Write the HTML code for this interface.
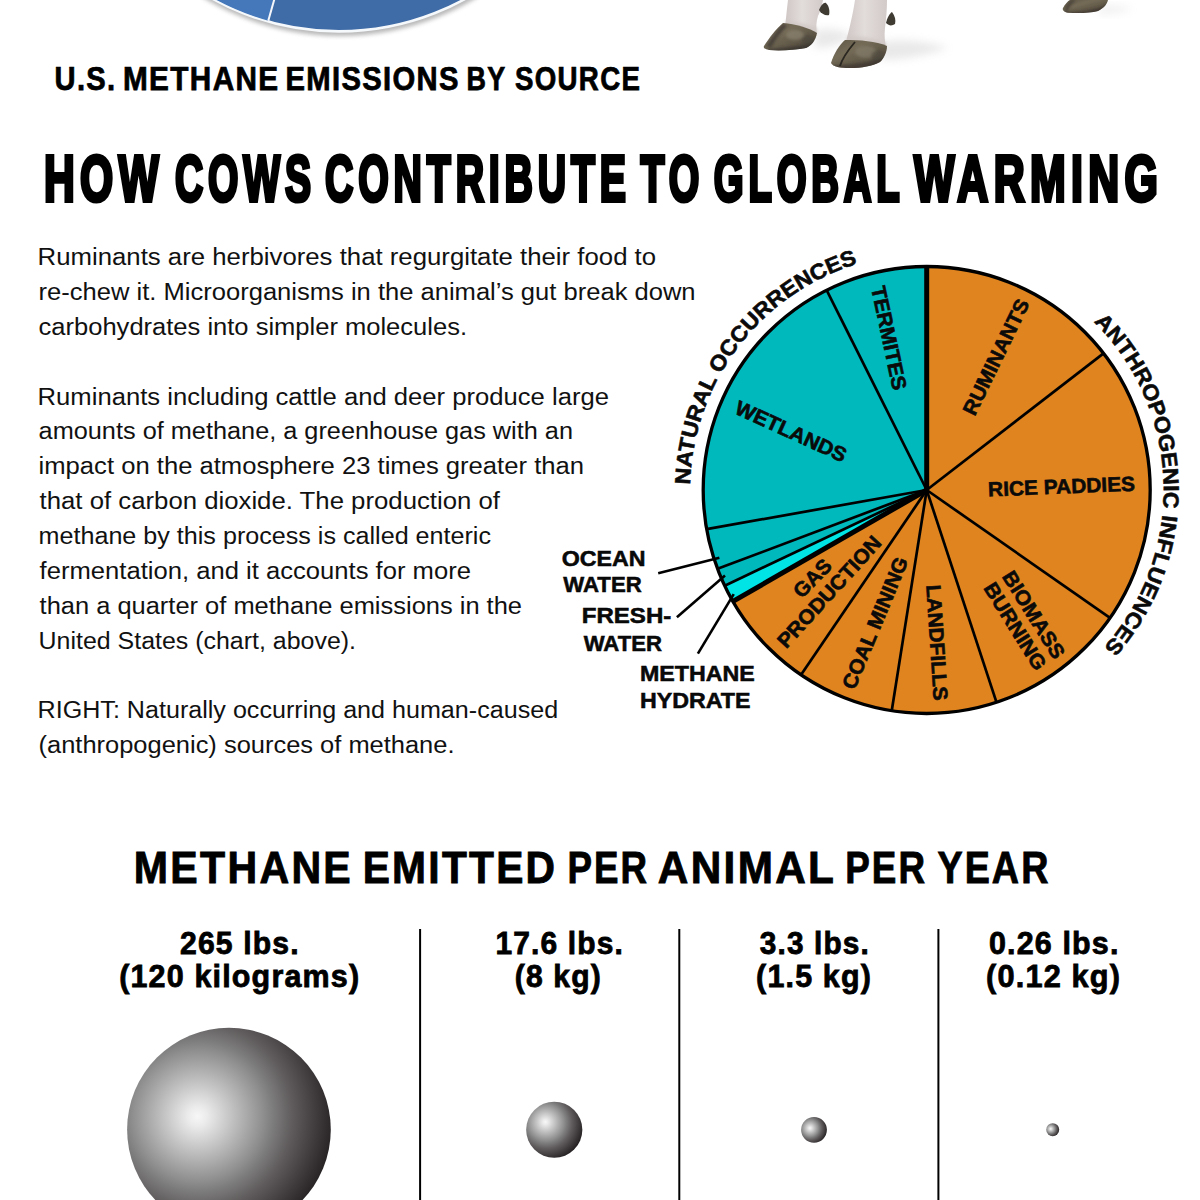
<!DOCTYPE html>
<html><head><meta charset="utf-8"><style>
html,body{margin:0;padding:0;background:#fff;width:1200px;height:1200px;overflow:hidden}
svg{display:block}
.b{font-family:"Liberation Sans",sans-serif}
</style></head><body>
<svg width="1200" height="1200" viewBox="0 0 1200 1200" class="b">
<defs>
<filter id="sh" x="-20%" y="-20%" width="140%" height="140%"><feGaussianBlur stdDeviation="2.2"/></filter>
<filter id="bl1" x="-20%" y="-20%" width="140%" height="140%"><feGaussianBlur stdDeviation="0.6"/></filter>
<filter id="bl3" x="-50%" y="-50%" width="200%" height="200%"><feGaussianBlur stdDeviation="4"/></filter>
<radialGradient id="sp" cx="0.35" cy="0.43" r="0.68" fx="0.345" fy="0.435" gradientUnits="objectBoundingBox">
<stop offset="0" stop-color="#f7f7f7"/><stop offset="0.07" stop-color="#ebebeb"/><stop offset="0.23" stop-color="#c6c6c6"/><stop offset="0.47" stop-color="#8f8f8f"/><stop offset="0.55" stop-color="#7c7b7b"/><stop offset="0.68" stop-color="#605c5d"/><stop offset="1" stop-color="#242021"/>
</radialGradient>
<radialGradient id="sp2" cx="0.36" cy="0.38" r="0.68" fx="0.34" fy="0.36" gradientUnits="objectBoundingBox">
<stop offset="0" stop-color="#f7f7f7"/><stop offset="0.07" stop-color="#ebebeb"/><stop offset="0.23" stop-color="#c6c6c6"/><stop offset="0.47" stop-color="#8f8f8f"/><stop offset="0.55" stop-color="#7c7b7b"/><stop offset="0.68" stop-color="#605c5d"/><stop offset="1" stop-color="#242021"/>
</radialGradient>
<linearGradient id="hoof" x1="0" y1="0" x2="1" y2="1">
<stop offset="0" stop-color="#5e5646"/><stop offset="0.35" stop-color="#746b57"/><stop offset="0.7" stop-color="#5c5444"/><stop offset="1" stop-color="#3a352c"/>
</linearGradient>
<linearGradient id="leg" x1="0" y1="0" x2="1" y2="0">
<stop offset="0" stop-color="#cfc7c5"/><stop offset="0.45" stop-color="#e2dcda"/><stop offset="1" stop-color="#d2cac8"/>
</linearGradient>
</defs>

<circle cx="340" cy="-226.4" r="262.5" fill="#8c8c8c" opacity="0.62" filter="url(#sh)"/>
<circle cx="339" cy="-229.6" r="261" fill="#3f6ba6" stroke="#f6f9fc" stroke-width="2.6"/>
<path d="M339,-229.6 L268.27,20.80 A260.2,260.2 0 0 1 123.86,-83.24 Z" fill="#4478bb"/>
<line x1="339" y1="-229.6" x2="268.27" y2="20.80" stroke="#f4f6fa" stroke-width="2"/>
<defs><clipPath id="ch1"><path d="M764,46 C769,38 776,29 783,23 C795,24 810,28 817,33 C816,40 811,46 806,48 C795,50 780,51 769,50 C765,49 763,48 764,46 Z"/></clipPath><clipPath id="ch2"><path d="M831,63 C834,53 840,44 845,40 C860,40 876,41 887,46 C887,52 884,58 880,62 C872,66 862,68 850,68 C840,68 833,67 831,63 Z"/></clipPath><clipPath id="ch3"><path d="M1063,8 C1065,4 1068,1 1070,0 L1108,0 C1107,4 1104,8 1098,11 C1090,13 1080,13.5 1068,12.8 C1064,12 1062,10 1063,8 Z"/></clipPath>
<filter id="bl2" x="-50%" y="-50%" width="200%" height="200%"><feGaussianBlur stdDeviation="1.5"/></filter></defs>
<g>
<path d="M880,42 C905,38 930,42 948,48 C925,56 900,60 882,60 Z" fill="#b0b0b0" opacity="0.28" filter="url(#bl3)"/>
<path d="M815,30 C830,28 845,30 852,36 C842,44 828,48 815,48 Z" fill="#b0b0b0" opacity="0.28" filter="url(#bl3)"/>
<path d="M1100,6 C1115,5 1125,6 1132,9 C1120,13 1108,14 1098,14 Z" fill="#c0c0c0" opacity="0.25" filter="url(#bl3)"/>
<path d="M788,0 L823,0 C822,6 820,12 818,16 C816,22 816,28 817,34 L785,28 C786,18 787,8 788,0 Z" fill="url(#leg)"/>
<path d="M855,0 L887,0 C887,10 886,20 885,28 C884,36 885,42 886,47 L846,42 C849,30 853,14 855,0 Z" fill="url(#leg)"/>
<path d="M786,20 C795,22 808,24 817,28 L817,34 L784,27 Z" fill="#cfc7c4" opacity="0.7" filter="url(#bl2)"/>
<path d="M847,36 C860,36 875,38 886,42 L886,47 L846,42 Z" fill="#cfc7c4" opacity="0.7" filter="url(#bl2)"/>
<g filter="url(#bl1)">
<path d="M819,10 C821,5 824,2 826,3 C829,6 830,11 829,15 C826,16 821,14 819,10 Z" fill="#3f3a33"/>
<path d="M886,23 C887,18 890,13 892,12 C895,16 896,20 895,24 C892,26 889,26 886,23 Z" fill="#3f3a33"/>
<path d="M764,46 C769,38 776,29 783,23 C795,24 810,28 817,33 C816,40 811,46 806,48 C795,50 780,51 769,50 C765,49 763,48 764,46 Z" fill="url(#hoof)"/>
<g clip-path="url(#ch1)" filter="url(#bl2)">
<ellipse cx="795" cy="35" rx="9" ry="5" fill="#8a826f" opacity="0.7"/>
<ellipse cx="808" cy="40" rx="7" ry="5" fill="#4a443a" opacity="0.6"/>
<path d="M766,46 C772,37 777,30 783,24 L787,26 C781,32 775,40 771,48 Z" fill="#3f3a32" opacity="0.8"/>
<path d="M766,50 C785,47 800,47 815,42 L815,52 L766,52 Z" fill="#3a352e" opacity="0.8"/>
</g>
<path d="M831,63 C834,53 840,44 845,40 C860,40 876,41 887,46 C887,52 884,58 880,62 C872,66 862,68 850,68 C840,68 833,67 831,63 Z" fill="url(#hoof)"/>
<g clip-path="url(#ch2)" filter="url(#bl2)">
<ellipse cx="866" cy="52" rx="11" ry="6" fill="#8a826f" opacity="0.6"/>
<ellipse cx="878" cy="56" rx="7" ry="6" fill="#4a443a" opacity="0.6"/>
<path d="M830,66 C845,64 865,64 885,58 L885,72 L830,72 Z" fill="#3a352e" opacity="0.7"/>
</g>
<path d="M855,42 C850,48 843,56 840,66" stroke="#2a2620" stroke-width="1.8" fill="none"/>
<path d="M1063,8 C1065,4 1068,1 1070,0 L1108,0 C1107,4 1104,8 1098,11 C1090,13 1080,13.5 1068,12.8 C1064,12 1062,10 1063,8 Z" fill="url(#hoof)"/>
<g clip-path="url(#ch3)" filter="url(#bl2)">
<path d="M1063,12 C1080,12 1095,11 1108,4 L1108,16 L1063,16 Z" fill="#3a352e" opacity="0.7"/>
<path d="M1064,9 C1066,5 1069,2 1072,0 L1076,0 C1072,3 1069,7 1067,12 Z" fill="#3a352e" opacity="0.7"/>
</g>
</g>
</g>
<text x="54.55" y="90.2" font-size="32.6" font-weight="bold" textLength="61.97" lengthAdjust="spacingAndGlyphs" fill="#000" stroke="#000" stroke-width="0.75" letter-spacing="1.5">U.S.</text>
<text x="122.95" y="90.2" font-size="32.6" font-weight="bold" textLength="156.64" lengthAdjust="spacingAndGlyphs" fill="#000" stroke="#000" stroke-width="0.75" letter-spacing="1.5">METHANE</text>
<text x="285.43" y="90.2" font-size="32.6" font-weight="bold" textLength="174.43" lengthAdjust="spacingAndGlyphs" fill="#000" stroke="#000" stroke-width="0.75" letter-spacing="1.5">EMISSIONS</text>
<text x="466.60" y="90.2" font-size="32.6" font-weight="bold" textLength="39.82" lengthAdjust="spacingAndGlyphs" fill="#000" stroke="#000" stroke-width="0.75" letter-spacing="1.5">BY</text>
<text x="515.04" y="90.2" font-size="32.6" font-weight="bold" textLength="126.13" lengthAdjust="spacingAndGlyphs" fill="#000" stroke="#000" stroke-width="0.75" letter-spacing="1.5">SOURCE</text>
<text x="43.94" y="201.3" font-size="64.3" font-weight="bold" textLength="120.12" lengthAdjust="spacingAndGlyphs" fill="#000" stroke="#000" stroke-width="4.0" letter-spacing="8">HOW</text>
<text x="175.00" y="201.3" font-size="64.3" font-weight="bold" textLength="141.05" lengthAdjust="spacingAndGlyphs" fill="#000" stroke="#000" stroke-width="4.0" letter-spacing="8">COWS</text>
<text x="325.00" y="201.3" font-size="64.3" font-weight="bold" textLength="305.89" lengthAdjust="spacingAndGlyphs" fill="#000" stroke="#000" stroke-width="4.0" letter-spacing="8">CONTRIBUTE</text>
<text x="640.61" y="201.3" font-size="64.3" font-weight="bold" textLength="63.65" lengthAdjust="spacingAndGlyphs" fill="#000" stroke="#000" stroke-width="4.0" letter-spacing="8">TO</text>
<text x="713.81" y="201.3" font-size="64.3" font-weight="bold" textLength="190.75" lengthAdjust="spacingAndGlyphs" fill="#000" stroke="#000" stroke-width="4.0" letter-spacing="8">GLOBAL</text>
<text x="913.91" y="201.3" font-size="64.3" font-weight="bold" textLength="249.34" lengthAdjust="spacingAndGlyphs" fill="#000" stroke="#000" stroke-width="4.0" letter-spacing="8">WARMING</text>
<text x="37.59" y="265.3" font-size="24.7" font-weight="normal" textLength="618.52" lengthAdjust="spacingAndGlyphs" fill="#111">Ruminants are herbivores that regurgitate their food to</text>
<text x="38.59" y="300.0" font-size="24.7" font-weight="normal" textLength="657.01" lengthAdjust="spacingAndGlyphs" fill="#111">re-chew it. Microorganisms in the animal’s gut break down</text>
<text x="38.59" y="335.0" font-size="24.7" font-weight="normal" textLength="428.42" lengthAdjust="spacingAndGlyphs" fill="#111">carbohydrates into simpler molecules.</text>
<text x="37.59" y="404.7" font-size="24.7" font-weight="normal" textLength="571.42" lengthAdjust="spacingAndGlyphs" fill="#111">Ruminants including cattle and deer produce large</text>
<text x="38.59" y="439.2" font-size="24.7" font-weight="normal" textLength="534.42" lengthAdjust="spacingAndGlyphs" fill="#111">amounts of methane, a greenhouse gas with an</text>
<text x="38.59" y="473.9" font-size="24.7" font-weight="normal" textLength="545.42" lengthAdjust="spacingAndGlyphs" fill="#111">impact on the atmosphere 23 times greater than</text>
<text x="39.59" y="509.2" font-size="24.7" font-weight="normal" textLength="460.41" lengthAdjust="spacingAndGlyphs" fill="#111">that of carbon dioxide. The production of</text>
<text x="38.59" y="544.2" font-size="24.7" font-weight="normal" textLength="452.41" lengthAdjust="spacingAndGlyphs" fill="#111">methane by this process is called enteric</text>
<text x="39.59" y="579.2" font-size="24.7" font-weight="normal" textLength="431.41" lengthAdjust="spacingAndGlyphs" fill="#111">fermentation, and it accounts for more</text>
<text x="39.59" y="614.1" font-size="24.7" font-weight="normal" textLength="482.41" lengthAdjust="spacingAndGlyphs" fill="#111">than a quarter of methane emissions in the</text>
<text x="38.57" y="648.9" font-size="24.7" font-weight="normal" textLength="317.44" lengthAdjust="spacingAndGlyphs" fill="#111">United States (chart, above).</text>
<text x="37.58" y="718.4" font-size="24.7" font-weight="normal" textLength="520.54" lengthAdjust="spacingAndGlyphs" fill="#111">RIGHT: Naturally occurring and human-caused</text>
<text x="38.59" y="753.1" font-size="24.7" font-weight="normal" textLength="415.93" lengthAdjust="spacingAndGlyphs" fill="#111">(anthropogenic) sources of methane.</text>
<text x="561.72" y="565.6" font-size="21.6" font-weight="bold" textLength="83.85" lengthAdjust="spacingAndGlyphs" fill="#0a0a0a" stroke="#000" stroke-width="0.5">OCEAN</text>
<text x="563.28" y="592.4" font-size="21.6" font-weight="bold" textLength="78.44" lengthAdjust="spacingAndGlyphs" fill="#0a0a0a" stroke="#000" stroke-width="0.5">WATER</text>
<text x="581.71" y="623.4" font-size="21.6" font-weight="bold" textLength="89.62" lengthAdjust="spacingAndGlyphs" fill="#0a0a0a" stroke="#000" stroke-width="0.5">FRESH-</text>
<text x="583.70" y="650.5" font-size="21.6" font-weight="bold" textLength="78.30" lengthAdjust="spacingAndGlyphs" fill="#0a0a0a" stroke="#000" stroke-width="0.5">WATER</text>
<text x="639.98" y="681.1" font-size="21.6" font-weight="bold" textLength="114.76" lengthAdjust="spacingAndGlyphs" fill="#0a0a0a" stroke="#000" stroke-width="0.5">METHANE</text>
<text x="639.98" y="708.25" font-size="21.6" font-weight="bold" textLength="110.58" lengthAdjust="spacingAndGlyphs" fill="#0a0a0a" stroke="#000" stroke-width="0.5">HYDRATE</text>
<text x="133.85" y="883.3" font-size="45.0" font-weight="bold" textLength="219.20" lengthAdjust="spacingAndGlyphs" fill="#000" stroke="#000" stroke-width="0.9" letter-spacing="2.5">METHANE</text>
<text x="362.71" y="883.3" font-size="45.0" font-weight="bold" textLength="194.53" lengthAdjust="spacingAndGlyphs" fill="#000" stroke="#000" stroke-width="0.9" letter-spacing="2.5">EMITTED</text>
<text x="567.43" y="883.3" font-size="45.0" font-weight="bold" textLength="81.59" lengthAdjust="spacingAndGlyphs" fill="#000" stroke="#000" stroke-width="0.9" letter-spacing="2.5">PER</text>
<text x="657.83" y="883.3" font-size="45.0" font-weight="bold" textLength="178.40" lengthAdjust="spacingAndGlyphs" fill="#000" stroke="#000" stroke-width="0.9" letter-spacing="2.5">ANIMAL</text>
<text x="845.28" y="883.3" font-size="45.0" font-weight="bold" textLength="81.79" lengthAdjust="spacingAndGlyphs" fill="#000" stroke="#000" stroke-width="0.9" letter-spacing="2.5">PER</text>
<text x="937.45" y="883.3" font-size="45.0" font-weight="bold" textLength="113.01" lengthAdjust="spacingAndGlyphs" fill="#000" stroke="#000" stroke-width="0.9" letter-spacing="2.5">YEAR</text>
<text x="180.04" y="953.5" font-size="31.6" font-weight="bold" textLength="119.75" lengthAdjust="spacingAndGlyphs" fill="#000" stroke="#000" stroke-width="0.8" letter-spacing="1.2">265 lbs.</text>
<text x="119.17" y="987.4" font-size="31.6" font-weight="bold" textLength="241.07" lengthAdjust="spacingAndGlyphs" fill="#000" stroke="#000" stroke-width="0.8" letter-spacing="1.2">(120 kilograms)</text>
<text x="495.44" y="953.5" font-size="31.6" font-weight="bold" textLength="128.52" lengthAdjust="spacingAndGlyphs" fill="#000" stroke="#000" stroke-width="0.8" letter-spacing="1.2">17.6 lbs.</text>
<text x="514.75" y="987.4" font-size="31.6" font-weight="bold" textLength="87.12" lengthAdjust="spacingAndGlyphs" fill="#000" stroke="#000" stroke-width="0.8" letter-spacing="1.2">(8 kg)</text>
<text x="759.77" y="953.5" font-size="31.6" font-weight="bold" textLength="110.11" lengthAdjust="spacingAndGlyphs" fill="#000" stroke="#000" stroke-width="0.8" letter-spacing="1.2">3.3 lbs.</text>
<text x="756.11" y="987.4" font-size="31.6" font-weight="bold" textLength="115.93" lengthAdjust="spacingAndGlyphs" fill="#000" stroke="#000" stroke-width="0.8" letter-spacing="1.2">(1.5 kg)</text>
<text x="989.04" y="953.5" font-size="31.6" font-weight="bold" textLength="130.54" lengthAdjust="spacingAndGlyphs" fill="#000" stroke="#000" stroke-width="0.8" letter-spacing="1.2">0.26 lbs.</text>
<text x="986.11" y="987.4" font-size="31.6" font-weight="bold" textLength="135.07" lengthAdjust="spacingAndGlyphs" fill="#000" stroke="#000" stroke-width="0.8" letter-spacing="1.2">(0.12 kg)</text>
<g>
<path d="M926.70,490.00 L926.70,266.50 A223.5,223.5 0 0 1 1103.54,353.32 Z" fill="#df841f"/>
<path d="M926.70,490.00 L1103.54,353.32 A223.5,223.5 0 0 1 1110.00,617.87 Z" fill="#df841f"/>
<path d="M926.70,490.00 L1110.00,617.87 A223.5,223.5 0 0 1 996.51,702.32 Z" fill="#df841f"/>
<path d="M926.70,490.00 L996.51,702.32 A223.5,223.5 0 0 1 891.74,710.75 Z" fill="#df841f"/>
<path d="M926.70,490.00 L891.74,710.75 A223.5,223.5 0 0 1 801.07,674.85 Z" fill="#df841f"/>
<path d="M926.70,490.00 L801.07,674.85 A223.5,223.5 0 0 1 732.95,601.41 Z" fill="#df841f"/>
<path d="M926.70,490.00 L732.95,601.41 A223.5,223.5 0 0 1 724.72,585.69 Z" fill="#00e4e6"/>
<path d="M926.70,490.00 L724.72,585.69 A223.5,223.5 0 0 1 717.56,568.82 Z" fill="#00b9bc"/>
<path d="M926.70,490.00 L717.56,568.82 A223.5,223.5 0 0 1 706.66,529.19 Z" fill="#00b9bc"/>
<path d="M926.70,490.00 L706.66,529.19 A223.5,223.5 0 0 1 826.63,290.16 Z" fill="#00b9bc"/>
<path d="M926.70,490.00 L826.63,290.16 A223.5,223.5 0 0 1 926.70,266.50 Z" fill="#00b9bc"/>
<line x1="926.7" y1="490.0" x2="926.70" y2="266.50" stroke="#000" stroke-width="5" stroke-linecap="butt"/>
<line x1="926.7" y1="490.0" x2="1103.54" y2="353.32" stroke="#000" stroke-width="2.7" stroke-linecap="butt"/>
<line x1="926.7" y1="490.0" x2="1110.00" y2="617.87" stroke="#000" stroke-width="2.7" stroke-linecap="butt"/>
<line x1="926.7" y1="490.0" x2="996.51" y2="702.32" stroke="#000" stroke-width="2.7" stroke-linecap="butt"/>
<line x1="926.7" y1="490.0" x2="891.74" y2="710.75" stroke="#000" stroke-width="2.7" stroke-linecap="butt"/>
<line x1="926.7" y1="490.0" x2="801.07" y2="674.85" stroke="#000" stroke-width="2.7" stroke-linecap="butt"/>
<line x1="926.7" y1="490.0" x2="732.95" y2="601.41" stroke="#000" stroke-width="5" stroke-linecap="butt"/>
<line x1="926.7" y1="490.0" x2="724.72" y2="585.69" stroke="#000" stroke-width="2.7" stroke-linecap="butt"/>
<line x1="926.7" y1="490.0" x2="717.56" y2="568.82" stroke="#000" stroke-width="2.7" stroke-linecap="butt"/>
<line x1="926.7" y1="490.0" x2="706.66" y2="529.19" stroke="#000" stroke-width="2.7" stroke-linecap="butt"/>
<line x1="926.7" y1="490.0" x2="826.63" y2="290.16" stroke="#000" stroke-width="2.7" stroke-linecap="butt"/>
<circle cx="926.7" cy="490.0" r="223.5" fill="none" stroke="#000" stroke-width="3.3"/>
</g>
<path id="arcN" d="M690.26,484.63 A236.5,236.5 0 0 1 858.74,263.47" fill="none"/>
<path id="arcA" d="M1093.70,321.83 A237,237 0 0 1 1103.38,647.97" fill="none"/>
<g font-size="21.8" font-weight="bold" fill="#0a0a0a" stroke="#0a0a0a" stroke-width="0.6">
<text><textPath href="#arcN" textLength="296" lengthAdjust="spacingAndGlyphs">NATURAL OCCURRENCES</textPath></text>
<text><textPath href="#arcA" textLength="359" lengthAdjust="spacingAndGlyphs">ANTHROPOGENIC INFLUENCES</textPath></text>
</g>
<g font-size="20.5" font-weight="bold" fill="#0a0a0a" stroke="#0a0a0a" stroke-width="0.6">
<g transform="translate(889,338) rotate(78)"><text x="0" y="7.05" text-anchor="middle" textLength="106" lengthAdjust="spacingAndGlyphs">TERMITES</text></g>
<g transform="translate(996,357) rotate(-64)"><text x="0" y="7.05" text-anchor="middle" textLength="126" lengthAdjust="spacingAndGlyphs">RUMINANTS</text></g>
<g transform="translate(791,431.4) rotate(24.5)"><text x="0" y="7.05" text-anchor="middle" textLength="120" lengthAdjust="spacingAndGlyphs">WETLANDS</text></g>
<g transform="translate(1061.5,486.5) rotate(-2.3)"><text x="0" y="7.05" text-anchor="middle" textLength="147" lengthAdjust="spacingAndGlyphs">RICE PADDIES</text></g>
<g transform="translate(1024.5,620.5) rotate(58)"><text x="0" y="-3.95" text-anchor="middle" textLength="99" lengthAdjust="spacingAndGlyphs">BIOMASS</text><text x="0" y="18.05" text-anchor="middle" textLength="99" lengthAdjust="spacingAndGlyphs">BURNING</text></g>
<g transform="translate(937,642.6) rotate(86.3)"><text x="0" y="7.05" text-anchor="middle" textLength="116" lengthAdjust="spacingAndGlyphs">LANDFILLS</text></g>
<g transform="translate(875,623) rotate(-67.4)"><text x="0" y="7.05" text-anchor="middle" textLength="141" lengthAdjust="spacingAndGlyphs">COAL MINING</text></g>
<g transform="translate(812.3,578.2) rotate(-46)"><text x="0" y="7.05" text-anchor="middle" textLength="45" lengthAdjust="spacingAndGlyphs">GAS</text></g>
<g transform="translate(829.3,591.8) rotate(-47.6)"><text x="0" y="7.05" text-anchor="middle" textLength="143" lengthAdjust="spacingAndGlyphs">PRODUCTION</text></g>
</g>
<g stroke="#000" stroke-width="2.6">
<line x1="658.2" y1="573.15" x2="719.4" y2="557.75"/>
<line x1="676.9" y1="617.25" x2="725" y2="575.6"/>
<line x1="697.9" y1="653.65" x2="733.75" y2="594.15"/>
</g>
<g stroke="#000" stroke-width="2">
<line x1="420.1" y1="929" x2="420.1" y2="1200"/>
<line x1="679.3" y1="929" x2="679.3" y2="1200"/>
<line x1="938.4" y1="929" x2="938.4" y2="1200"/>
</g>
<circle cx="228.95" cy="1129.6" r="101.85" fill="url(#sp)"/>
<circle cx="554.25" cy="1129.75" r="28.1" fill="url(#sp2)"/>
<circle cx="814" cy="1129.8" r="12.9" fill="url(#sp)"/>
<circle cx="1052.7" cy="1129.7" r="6.5" fill="url(#sp)"/>
</svg></body></html>
